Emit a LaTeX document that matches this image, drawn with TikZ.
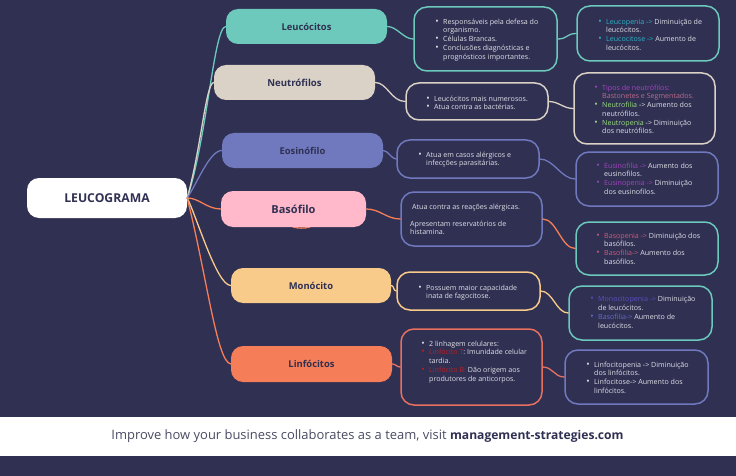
\documentclass[tikz,border=0pt]{standalone}
\usepackage{fontspec}
\setmainfont{Open Sans}
\newfontfamily\headfont{Open Sans}
\definecolor{bgc}{HTML}{2F3052}
\definecolor{teal}{HTML}{6CC9BB}
\definecolor{beige}{HTML}{DAD2C7}
\definecolor{peri}{HTML}{7079BE}
\definecolor{pinkn}{HTML}{FFB9CB}
\definecolor{yell}{HTML}{F9CB8B}
\definecolor{oran}{HTML}{F57D57}
\definecolor{coral}{HTML}{E8705F}
\definecolor{txt}{HTML}{E2E2EA}
\definecolor{ink}{HTML}{2F3052}
\definecolor{cTeal}{HTML}{2BB5C8}
\definecolor{cPur}{HTML}{A844C4}
\definecolor{cRose}{HTML}{BE6C8E}
\definecolor{cGreen}{HTML}{9BE07E}
\definecolor{cPink}{HTML}{D25A78}
\definecolor{cBlue}{HTML}{5A50C0}
\definecolor{cBlue2}{HTML}{6A6AD0}
\definecolor{cRed}{HTML}{BE1E24}
\definecolor{foot}{HTML}{4A4B63}
\tikzset{
  x=1pt,y=-1pt,
  mainbox/.style={draw=none,rounded corners=12pt,inner sep=0pt},
  listbox/.style={fill=bgc,rounded corners=13pt,line width=1.5pt,inner sep=0pt},
  bodytext/.style={anchor=north west,inner sep=0pt,yshift=-1.5pt,align=left,text=txt,font=\fontsize{7.1}{8.75}\selectfont},
  link/.style={line width=1.3pt,line cap=round},
}
\newcommand{\bx}[7]{\node[#6,minimum width=#4pt-#2pt,minimum height=#5pt-#3pt] (#1) at ({(#2+#4)/2},{(#3+#5)/2}) {#7};}
\newcommand{\hd}[2]{\headfont\bfseries\fontsize{#1}{#1}\selectfont\color{ink}#2}
\newcommand{\bul}[1][txt]{\leavevmode\llap{\textcolor{#1}{\fontsize{9}{8.75}\selectfont\textbullet}\hspace{4.5pt}}}
\begin{document}
\begin{tikzpicture}
\useasboundingbox (0,0) rectangle (736,476);
\fill[bgc] (0,0) rectangle (736,476);
% footer
\node[fill=white,minimum width=736pt,minimum height=39pt,inner sep=0pt] (footer) at (368,436.5) {};
\node[inner sep=0pt,text=foot,font=\fontsize{12.95}{14}\selectfont] (foottext) at (367.5,436) {Improve how your business collaborates as a team, visit \textbf{\fontsize{12.1}{14}\selectfont\textcolor{bgc}{management-strategies.com}}};
% main nodes
\bx{root}{27}{178}{187}{218}{mainbox,fill=white}{\hd{12.2}{LEUCOGRAMA}}
\coordinate (mk1) at (293,227);
\coordinate (mk2) at (310,227);
\draw[link,oran] (mk1) .. controls (298,228.5) and (305,228.5) .. (mk2);
\bx{leu}{226}{9}{387}{44}{mainbox,fill=teal}{\hd{9.4}{Leucócitos}}
\bx{neu}{214}{65}{375}{100}{mainbox,fill=beige}{\hd{9.6}{Neutrófilos}}
\bx{eos}{222}{133}{383}{168}{mainbox,fill=peri}{\hd{9.4}{Eosinófilo}}
\bx{bas}{221}{191}{366}{227}{mainbox,fill=pinkn}{\hd{11}{Basófilo}}
\bx{mon}{231}{268}{391}{303}{mainbox,fill=yell}{\hd{9.4}{Monócito}}
\bx{lin}{231}{346}{392}{382}{mainbox,fill=oran}{\hd{9.4}{Linfócitos}}
% list boxes
\bx{a1}{414}{7}{557}{71}{listbox,draw=teal}{}
\bx{b1}{577}{6}{719}{61}{listbox,draw=teal}{}
\bx{a2}{406}{83}{548}{120}{listbox,draw=beige}{}
\bx{b2}{574}{73}{715}{144}{listbox,draw=beige}{}
\bx{a3}{397}{140}{539}{178}{listbox,draw=peri}{}
\bx{b3}{576}{152}{718}{206}{listbox,draw=peri}{}
\bx{a4}{401}{192}{542}{246}{listbox,draw=peri}{}
\bx{b4}{576}{222}{718}{275}{listbox,draw=teal}{}
\bx{a5}{397}{272}{540}{310}{listbox,draw=yell}{}
\bx{b5}{569}{286}{712}{340}{listbox,draw=teal}{}
\bx{a6}{401}{329}{542}{405}{listbox,draw=coral}{}
\bx{b6}{565}{350}{708}{404}{listbox,draw=peri}{}
% root links
\draw[link,teal] (root.east) .. controls +(20,-60) and +(-12,0) .. (leu.west);
\draw[link,beige] (root.east) .. controls +(14,-50) and +(-8,0) .. (neu.west);
\draw[link,peri] (root.east) .. controls +(10,-15) and +(-12,0) .. (eos.west);
\draw[link,oran] (root.east) .. controls +(12,0) and +(-14,0) .. (bas.west);
\draw[link,yell] (root.east) .. controls +(10,20) and +(-14,0) .. (mon.west);
\draw[link,oran] (root.east) .. controls +(20,80) and +(-14,-2) .. (lin.west);
% second links
\draw[link,teal] (leu.east) .. controls +(10,0) and +(-10,0) .. (a1.west);
\draw[link,teal] (a1.east) .. controls +(10,0) and +(-10,0) .. (b1.west);
\draw[link,beige] (neu.east) .. controls +(12,0) and +(-14,0) .. (a2.west);
\draw[link,beige] (a2.east) .. controls +(10,0) and +(-10,0) .. (b2.west);
\draw[link,peri] (eos.east) .. controls +(5,0) and +(-5,0) .. (a3.west);
\draw[link,peri] (a3.east) .. controls +(14,0) and +(-14,0) .. (b3.west);
\draw[link,oran] (bas.east) .. controls +(14,0) and +(-14,0) .. (a4.west);
\draw[link,oran] (a4.east) .. controls +(14,0) and +(-14,0) .. (b4.west);
\draw[link,yell] (mon.east) .. controls +(3,0) and +(-3,0) .. (a5.west);
\draw[link,yell] (a5.east) .. controls +(12,0) and +(-12,0) .. (b5.west);
\draw[link,coral] (lin.east) .. controls +(4,0) and +(-4,0) .. (a6.west);
\draw[link,coral] (a6.east) .. controls +(10,0) and +(-10,0) .. (b6.west);
% texts
\node[bodytext] (a1t) at (443,17) {\bul Responsáveis pela defesa do\\organismo.\\\bul Células Brancas.\\\bul Conclusões diagnósticas e\\prognósticos importantes.};
\node[bodytext] (b1t) at (606,17) {\bul[cTeal]\textcolor{cTeal}{Leucopenia ->} Diminuição de\\leucócitos.\\\bul[cTeal]\textcolor{cTeal}{Leucocitose ->} Aumento de\\leucócitos.};
\node[bodytext] (a2t) at (434,94) {\bul Leucócitos mais numerosos.\\\bul Atua contra as bactérias.};
\node[bodytext] (b2t) at (602,83) {\bul[cPur]\textcolor{cPur}{Tipos de neutrófilos:}\\\textcolor{cRose}{Bastonetes e Segmentados.}\\\bul[cGreen]\textcolor{cGreen}{Neutrofilia} -> Aumento dos\\neutrófilos.\\\bul[cGreen]\textcolor{cGreen}{Neutropenia} -> Diminuição\\dos neutrófilos.};
\node[bodytext] (a3t) at (426,150) {\bul Atua em casos alérgicos e\\infecções parasitárias.};
\node[bodytext] (b3t) at (604,161) {\bul[cPur]\textcolor{cPur}{Eusinofilia ->} Aumento dos\\eusinofilos.\\\bul[cPur]\textcolor{cPur}{Eusinopenia ->} Diminuição\\dos eusinofilos.};
\node[bodytext] (a4t) at (412,202) {Atua contra as reações alérgicas.};
\node[bodytext] (a4u) at (410,219) {Apresentam reservatórios de\\histamina.};
\node[bodytext] (b4t) at (604,231) {\bul[cPink]\textcolor{cPink}{Basopenia ->} Diminuição dos\\basófilos.\\\bul[cPink]\textcolor{cPink}{Basofilia->} Aumento dos\\basófilos.};
\node[bodytext] (a5t) at (426,283) {\bul Possuem maior capacidade\\inata de fagocitose.};
\node[bodytext] (b5t) at (598,295) {\bul[cBlue]\textcolor{cBlue}{Monocitopenia ->} Diminuição\\de leucócitos.\\\bul[cBlue2]\textcolor{cBlue2}{Basofilia->} Aumento de\\leucócitos.};
\node[bodytext] (a6t) at (429,339) {\bul 2 linhagem celulares:\\\bul[cRed]\textcolor{cRed}{Linfócito T}: Imunidade celular\\tardia.\\\bul[cRed]\textcolor{cRed}{Linfócito B:} Dão origem aos\\produtores de anticorpos.};
\node[bodytext] (b6t) at (594,360) {\bul Linfocitopenia -> Diminuição\\dos linfócitos.\\\bul Linfocitose-> Aumento dos\\linfócitos.};
\end{tikzpicture}
\end{document}
